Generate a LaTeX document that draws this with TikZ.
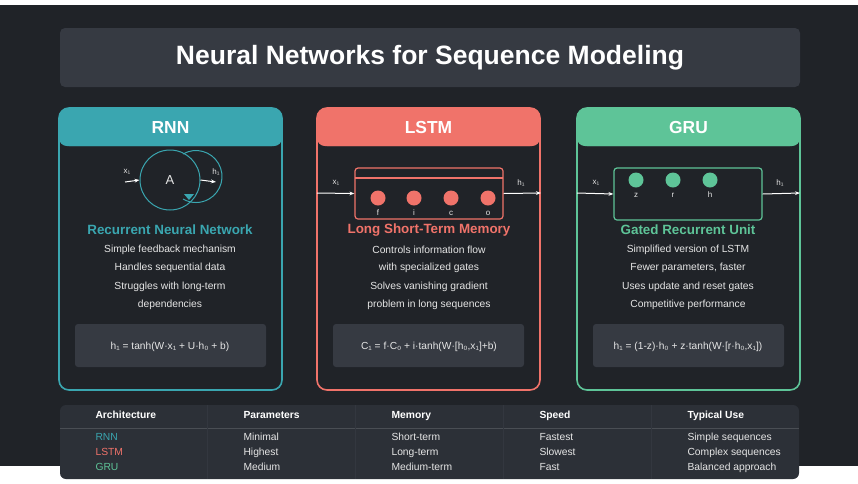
\documentclass[tikz,border=0pt]{standalone}
\usepackage{fontspec}
\setmainfont{Liberation Sans}
\usetikzlibrary{arrows.meta}
\definecolor{bgc}{HTML}{202328}
\definecolor{boxc}{HTML}{363A42}
\definecolor{tabc}{HTML}{2C3037}
\definecolor{rnnc}{HTML}{3AA6B0}
\definecolor{lstmc}{HTML}{F0736A}
\definecolor{gruc}{HTML}{5EC498}
\definecolor{txtc}{HTML}{E6E6E6}
\begin{document}
\begin{tikzpicture}[x=1pt,y=-1pt,
  card/.style={draw=#1,line width=1.6pt,fill=bgc,rounded corners=10pt},
  hdr/.style={text=white,font=\fontsize{17.4}{20}\selectfont\bfseries},
  sub/.style={text=#1,font=\fontsize{13.4}{15}\selectfont\bfseries},
  desc/.style={text=txtc,font=\fontsize{10.3}{12}\selectfont},
  formula/.style={text=txtc,font=\fontsize{10.2}{12}\selectfont},
  small/.style={text=txtc,font=\fontsize{8}{9}\selectfont},
  arr/.style={draw=white,line width=1pt,-{Stealth[length=5pt]}},
  th/.style={text=white,font=\fontsize{10.3}{12}\selectfont\bfseries,anchor=west,text height=8pt,text depth=2.5pt},
  td/.style={text=txtc,font=\fontsize{10.3}{12}\selectfont,anchor=west,text height=8pt,text depth=2.5pt}]
\useasboundingbox (0,0) rectangle (858,483);
\fill[white] (0,0) rectangle (858,483);
\fill[bgc] (0,5) rectangle (858,466);
\fill[boxc,rounded corners=5pt] (60,28) rectangle (800,87);
\node[text=white,font=\fontsize{26.5}{30}\selectfont\bfseries] (title) at (430,58) {Neural Networks for Sequence Modeling};
% cards
\foreach \x/\c/\n in {59/rnnc/RNN,317/lstmc/LSTM,577/gruc/GRU}{
  \draw[card=\c] (\x,108) rectangle (\x+223,390);
  \fill[\c,rounded corners=10pt] (\x,108) rectangle (\x+223,146);
  \fill[\c] (\x,120) rectangle (\x+223,140);
  \fill[\c,rounded corners=8pt] (\x,130) rectangle (\x+223,146);
  \node[hdr] at (\x+111.5,128) {\n};
  \fill[boxc,rounded corners=3pt] (\x+16,324) rectangle (\x+207,367);
}
% RNN
\node[draw=rnnc,line width=1pt,circle,minimum size=60pt,text=txtc,font=\fontsize{13}{15}\selectfont,inner sep=0pt] (A) at (170,180) {A};
\draw[rnnc,line width=1pt] (183,154) arc[start angle=120,end angle=-120,radius=26pt];
\fill[rnnc] (184,194) -- (194,194) -- (189,200) -- cycle;
\coordinate (xin) at (125,182);
\coordinate (hout) at (216,182);
\draw[arr] (xin) -- (A.west);
\draw[arr] (A.east) -- (hout);
\node[small] at (127,172) {x₁};
\node[small] at (216,172) {h₁};
\node[sub=rnnc] at (170,230) {Recurrent Neural Network};
\node[desc] at (170,250) {Simple feedback mechanism};
\node[desc] at (170,268) {Handles sequential data};
\node[desc] at (170,287) {Struggles with long-term};
\node[desc] at (170,305) {dependencies};
\node[formula] at (170,347) {h₁ = tanh(W·x₁ + U·h₀ + b)};
% LSTM
\node[draw=lstmc,line width=1.2pt,rounded corners=3pt,minimum width=148pt,minimum height=51pt,inner sep=0pt] (cell) at (429,193.5) {};
\draw[lstmc,line width=1.2pt] (355,178) -- (503,178);
\foreach \xx/\l in {378/f,414/i,451/c,488/o}{
  \fill[lstmc] (\xx,198) circle (7.5pt);
  \node[small] at (\xx,213) {\l};
}
\coordinate (lin) at (317,193);
\coordinate (lout) at (541,193);
\draw[arr] (lin) -- (cell.west);
\draw[arr] (cell.east) -- (lout);
\node[small] at (336,183) {x₁};
\node[small] at (521,183) {h₁};
\node[sub=lstmc] at (429,230) {Long Short-Term Memory};
\node[desc] at (429,250) {Controls information flow};
\node[desc] at (429,268) {with specialized gates};
\node[desc] at (429,287) {Solves vanishing gradient};
\node[desc] at (429,305) {problem in long sequences};
\node[formula] at (429,347) {C₁ = f·C₀ + i·tanh(W·[h₀,x₁]+b)};
% GRU
\node[draw=gruc,line width=1.2pt,rounded corners=3pt,minimum width=148pt,minimum height=52pt,inner sep=0pt] (gcell) at (688,194) {};
\foreach \xx/\l in {636/z,673/r,710/h}{
  \fill[gruc] (\xx,180) circle (7.5pt);
  \node[small] at (\xx,195) {\l};
}
\coordinate (gin) at (577,193);
\coordinate (gout) at (800,193);
\draw[arr] (gin) -- (gcell.west);
\draw[arr] (gcell.east) -- (gout);
\node[small] at (596,183) {x₁};
\node[small] at (780,183) {h₁};
\node[sub=gruc] at (688,230) {Gated Recurrent Unit};
\node[desc] at (688,250) {Simplified version of LSTM};
\node[desc] at (688,268) {Fewer parameters, faster};
\node[desc] at (688,287) {Uses update and reset gates};
\node[desc] at (688,305) {Competitive performance};
\node[formula] at (688,347) {h₁ = (1-z)·h₀ + z·tanh(W·[r·h₀,x₁])};
% table
\fill[tabc,rounded corners=6pt] (60,405) rectangle (799,479);
\draw[boxc!80!white!60!tabc,line width=0.6pt] (60,428) -- (799,428);
\foreach \xx in {207,355,503,651} \draw[boxc!70!tabc,line width=0.6pt] (\xx,405) -- (\xx,479);
\node[th] at (92,416) {Architecture};
\node[th] at (240,416) {Parameters};
\node[th] at (388,416) {Memory};
\node[th] at (536,416) {Speed};
\node[th] at (684,416) {Typical Use};
\node[td,text=rnnc] at (92,438) {RNN};
\node[td,text=lstmc] at (92,453) {LSTM};
\node[td,text=gruc] at (92,468) {GRU};
\node[td] at (240,438) {Minimal};
\node[td] at (240,453) {Highest};
\node[td] at (240,468) {Medium};
\node[td] at (388,438) {Short-term};
\node[td] at (388,453) {Long-term};
\node[td] at (388,468) {Medium-term};
\node[td] at (536,438) {Fastest};
\node[td] at (536,453) {Slowest};
\node[td] at (536,468) {Fast};
\node[td] at (684,438) {Simple sequences};
\node[td] at (684,453) {Complex sequences};
\node[td] at (684,468) {Balanced approach};
\end{tikzpicture}
\end{document}
